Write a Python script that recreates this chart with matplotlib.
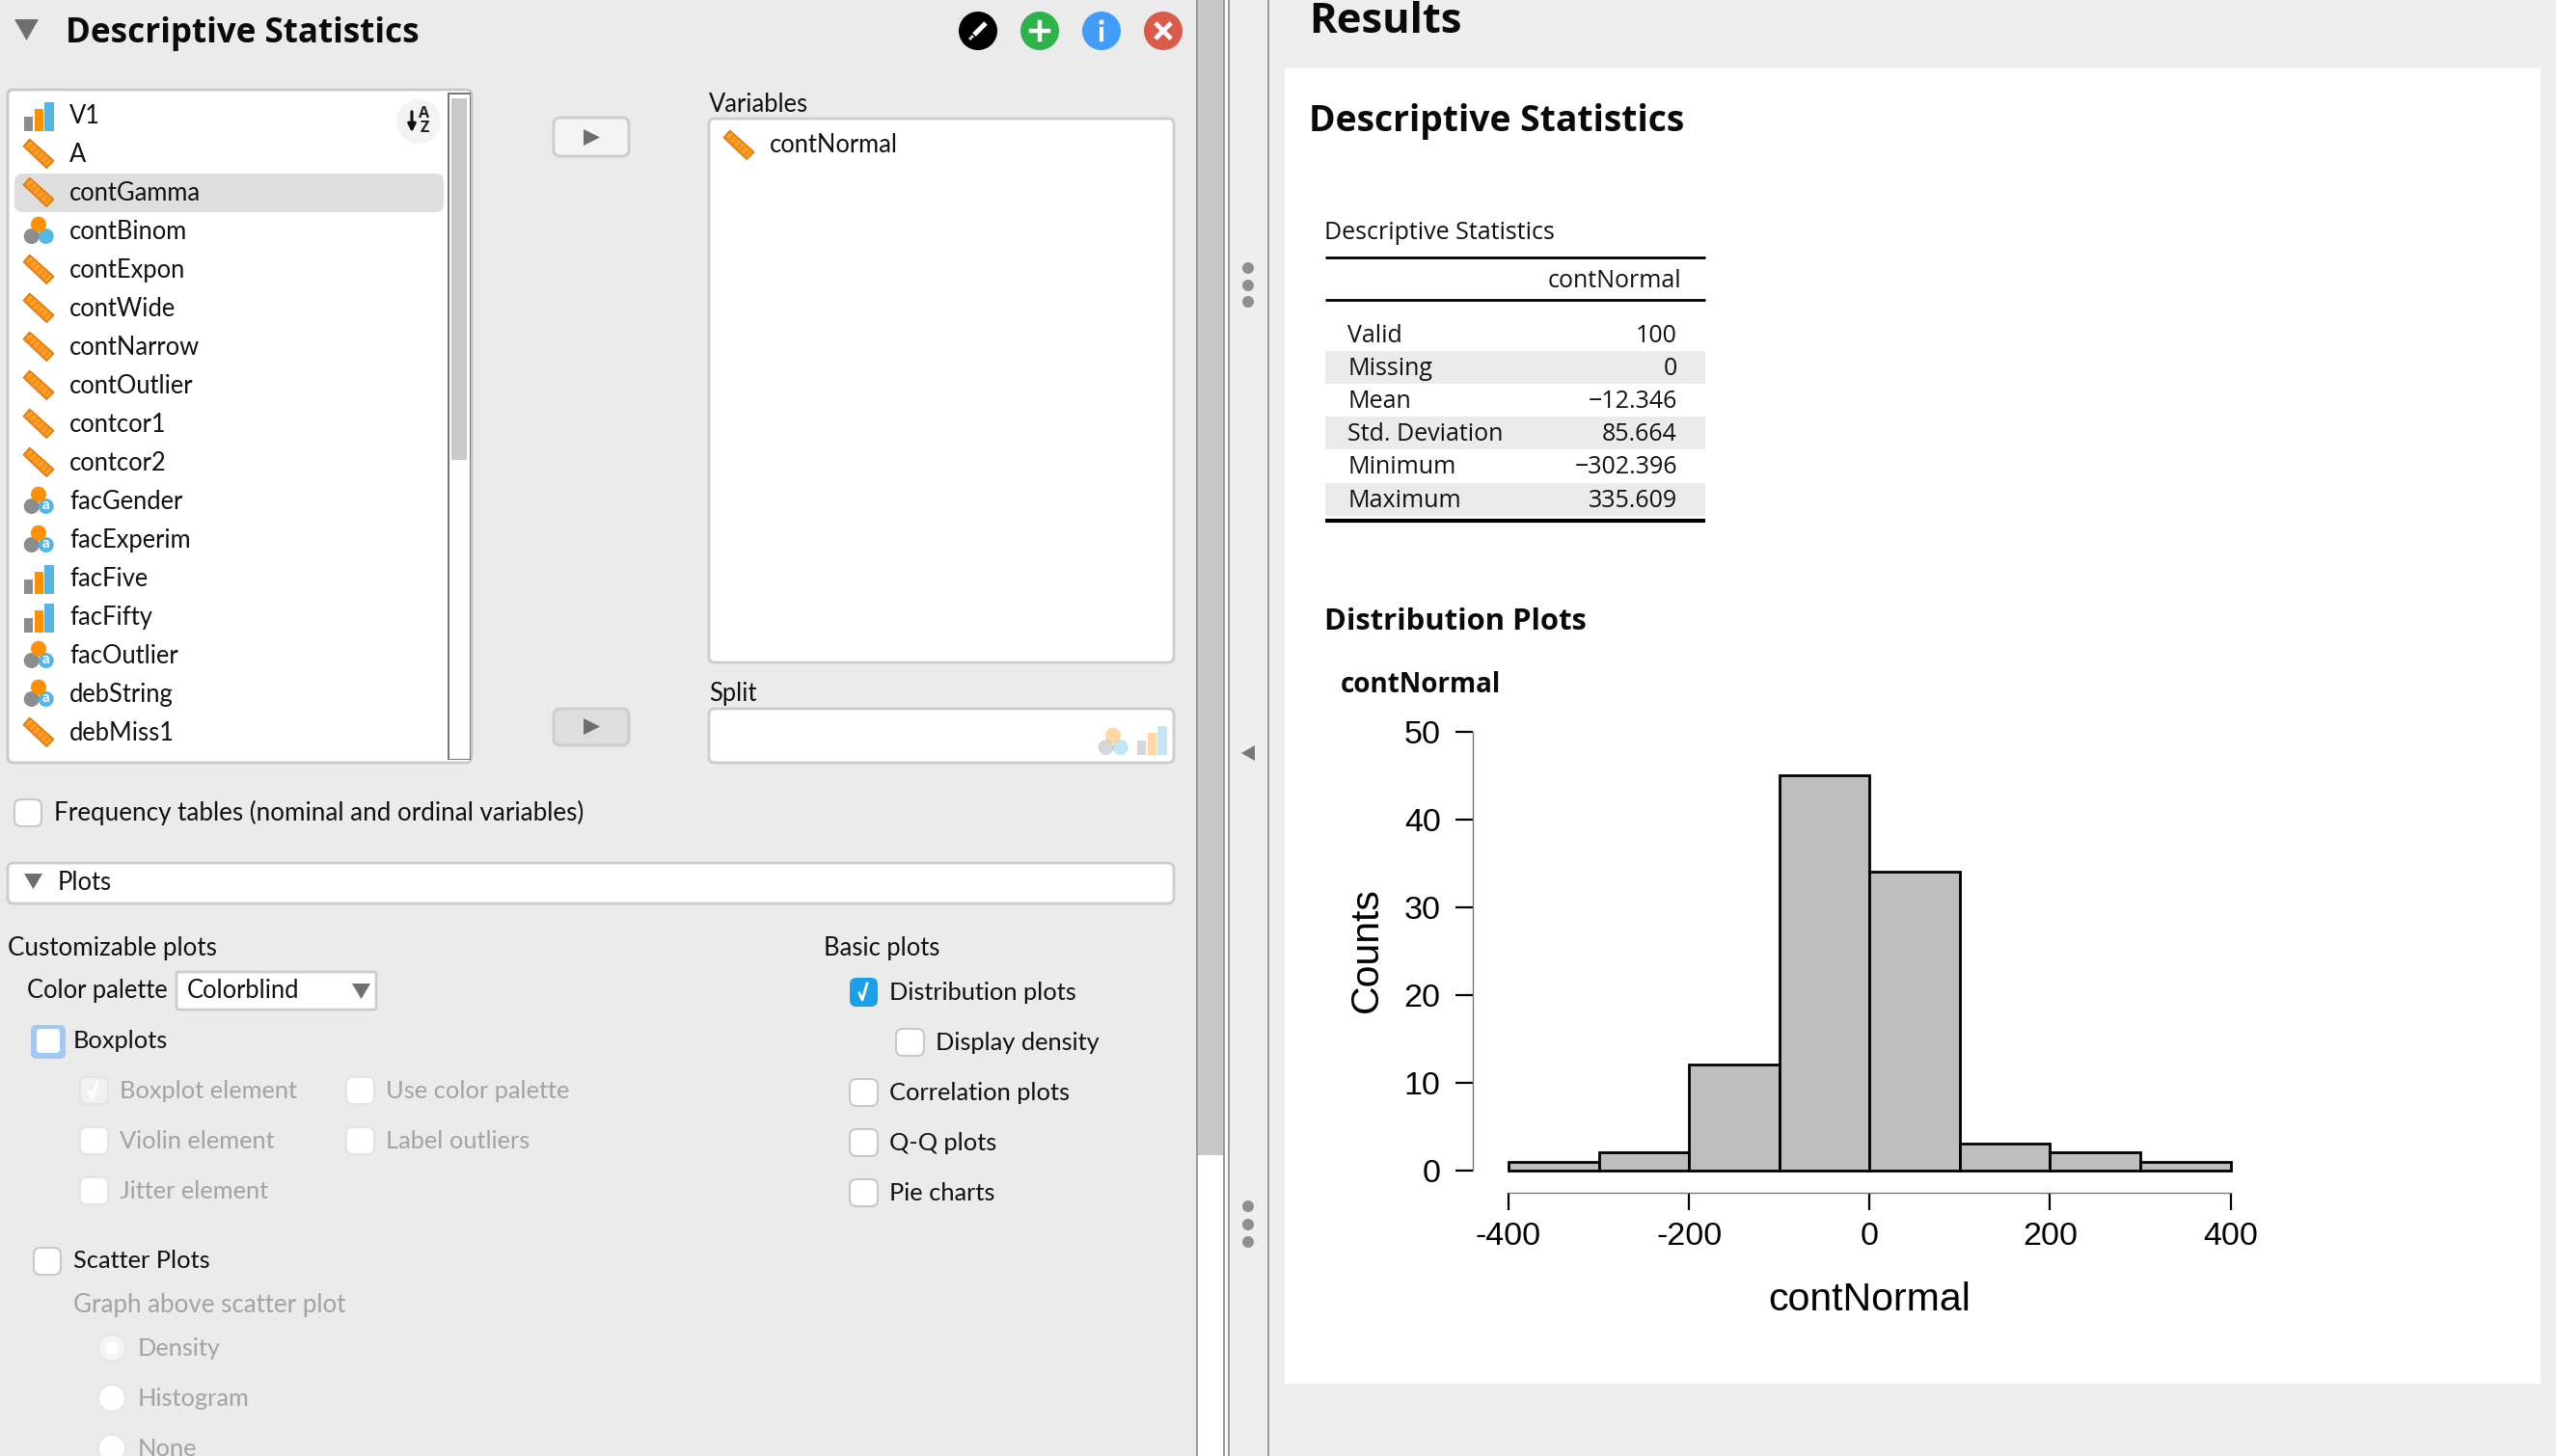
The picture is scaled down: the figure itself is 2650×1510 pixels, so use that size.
import matplotlib
matplotlib.use('Agg')
import matplotlib.pyplot as plt
from matplotlib.patches import FancyBboxPatch, Circle, Polygon, Rectangle

# Donnees
variable_names = ['V1', 'A', 'contGamma', 'contBinom', 'contExpon', 'contWide', 'contNarrow',
                  'contOutlier', 'contcor1', 'contcor2', 'facGender', 'facExperim', 'facFive',
                  'facFifty', 'facOutlier', 'debString', 'debMiss1']
variable_types = ['ordinal', 'scale', 'scale', 'nominal', 'scale', 'scale', 'scale',
                  'scale', 'scale', 'scale', 'text', 'text', 'ordinal',
                  'ordinal', 'text', 'text', 'scale']

stat_labels = ['Valid', 'Missing', 'Mean', 'Std. Deviation', 'Minimum', 'Maximum']
stat_values = ['100', '0', '\u221212.346', '85.664', '\u2212302.396', '335.609']

bin_edges = [-400, -300, -200, -100, 0, 100, 200, 300, 400]
bin_counts = [1, 2, 12, 45, 34, 3, 2, 1]
x_ticks = [-400, -200, 0, 200, 400]
x_tick_labels = ['-400', '-200', '0', '200', '400']
y_ticks = [0, 10, 20, 30, 40, 50]

W, H = 2650, 1510
UI_FONT = 'Lato'
RES_FONT = 'Open Sans'
GREY_TXT = '#a3a3a3'
ORANGE = '#ff9000'
BLUE = '#55b5e5'
GREY = '#8a8d90'

fig = plt.figure(figsize=(W / 100, H / 100), dpi=100, facecolor='#ebebeb')
ui = fig.add_axes([0, 0, 1, 1], zorder=0)
ui.set_xlim(0, W)
ui.set_ylim(H, 0)
ui.axis('off')


def box(x0, y0, x1, y1, fc='white', ec='#cccccc', lw=1.5, r=6, z=1):
    ui.add_patch(FancyBboxPatch((x0, y0), x1 - x0, y1 - y0, boxstyle=f'round,pad=0,rounding_size={r}',
                                fc=fc, ec=ec, lw=lw, zorder=z))


def rect(x0, y0, x1, y1, fc, z=1, alpha=1.0):
    ui.add_patch(Rectangle((x0, y0), x1 - x0, y1 - y0, fc=fc, ec='none', zorder=z, alpha=alpha))


def tri(x0, y0, x1, y1, col='#6f6f6f'):
    # triangle pointe en bas
    ui.add_patch(Polygon([(x0, y0), (x1, y0), ((x0 + x1) / 2, y1)], fc=col, ec='none', zorder=3))


def txt(x, y, s, size=18.3, col='#111111', font=UI_FONT, ha='left', weight='normal'):
    ui.text(x, y, s, fontsize=size, color=col, family=font, ha=ha, va='center', weight=weight, zorder=4)


def checkbox(x0, y0, x1, y1, disabled=False):
    ec = '#e4e4e4' if disabled else '#c8c8c8'
    box(x0, y0, x1, y1, fc='white', ec=ec, lw=1.5, r=7, z=2)


def check_mark(x, y, col='white', lw=2):
    ui.plot([x - 4, x - 1, x + 4], [y + 1, y + 8, y - 9], color=col, lw=lw, zorder=5)


def icon_scale(x0, cy, alpha=1.0):
    corners = [(x0 + 5.7, cy - 14.7), (x0 - 0.7, cy - 7.3), (x0 + 23.3, cy + 15.3), (x0 + 30.7, cy + 7.7)]
    ui.add_patch(Polygon(corners, fc='#fb8f14', ec='#dd7a08', lw=1, alpha=alpha, zorder=3))
    for k in range(6):
        tx = x0 + 7.5 + k * 3.9
        ty = cy - 11 + k * 3.75
        ui.plot([tx, tx - 3.6], [ty, ty + 3.9], color='#ffb050', lw=1, alpha=alpha, zorder=4)


def icon_ordinal(x0, cy, alpha=1.0):
    bottom = cy + 17
    for k, (h, c) in enumerate(zip([15, 23, 30], [GREY, ORANGE, BLUE])):
        rect(x0 + k * 10.7, bottom - h, x0 + k * 10.7 + 9.3, bottom, c, z=3, alpha=alpha)


def icon_nominal(x0, cy, alpha=1.0, letter=False):
    ui.add_patch(Circle((x0 + 22.7, cy + 6), 8, fc=BLUE, ec='none', alpha=alpha, zorder=3))
    ui.add_patch(Circle((x0 + 7.7, cy + 6), 8, fc=GREY, ec='none', alpha=alpha, zorder=3))
    ui.add_patch(Circle((x0 + 15, cy - 6.3), 8, fc=ORANGE, ec='none', alpha=alpha, zorder=4))
    if letter:
        ui.text(x0 + 22.7, cy + 5, 'a', fontsize=11, color='white', ha='center', va='center',
                family=UI_FONT, weight='bold', zorder=5)


# =============================================================================
# Panneau de gauche
# =============================================================================
rect(1240, 0, 1242, H, '#9a9a9a', z=1)
rect(1242, 0, 1268, 1198, '#c8c8c8', z=1)
rect(1242, 1198, 1268, H, 'white', z=1)
rect(1268, 0, 1270, H, '#9a9a9a', z=1)
rect(1270, 0, 1273, H, 'white', z=1)
rect(1273, 0, 1275, H, '#9a9a9a', z=1)
rect(1275, 0, 1314, H, '#eeeeee', z=1)
rect(1314, 0, 1316, H, '#9a9a9a', z=1)
rect(1316, 0, W, H, '#eeeeee', z=1)

tri(15, 20, 40, 42)
txt(68, 35, 'Descriptive Statistics', size=25.2, font=RES_FONT, weight='bold', col='#0a0a0a')

for cx, col in zip([1014, 1078, 1142, 1206], ['#000000', '#2eb24a', '#429cfa', '#db5b4a']):
    ui.add_patch(Circle((cx, 32), 20, fc=col, ec='none', zorder=3))
# crayon, plus, info, croix
ui.plot([1010, 1022], [36, 24], color='white', lw=3.6, solid_capstyle='butt', zorder=4)
ui.plot([1005, 1009], [41, 37], color='#cccccc', lw=2.2, solid_capstyle='butt', zorder=4)
ui.plot([1078, 1078], [23, 41], color='white', lw=3.2, zorder=4)
ui.plot([1069, 1087], [32, 32], color='white', lw=3.2, zorder=4)
ui.plot([1142, 1142], [30, 41], color='white', lw=3, zorder=4)
ui.add_patch(Circle((1142, 23), 2.6, fc='white', ec='none', zorder=4))
ui.plot([1199.5, 1212.5], [25.5, 38.5], color='white', lw=3.4, zorder=4)
ui.plot([1212.5, 1199.5], [25.5, 38.5], color='white', lw=3.4, zorder=4)

# Liste des variables
box(8, 93, 489, 791, ec='#c8c8c8', lw=2)
rect(464, 96, 488, 788, '#777777', z=2)
rect(465.5, 97.5, 486.5, 786.5, 'white', z=2)
rect(468, 102, 484, 477, '#c9c9c9', z=3)
box(15, 180, 460, 220, fc='#dedede', ec='none', lw=0, r=8, z=2)

ui.add_patch(Circle((434, 126), 23, fc='#f3f3f3', ec='none', zorder=3))
ui.annotate('', xy=(427, 140), xytext=(427, 113),
            arrowprops=dict(arrowstyle='-|>', color='#111111', lw=2.2, mutation_scale=12), zorder=4)
txt(440, 118.5, 'A', size=11.5, col='#222222', ha='center', font=RES_FONT, weight='bold')
txt(440, 133, 'Z', size=11.5, col='#222222', ha='center', font=RES_FONT, weight='bold')

for i, (name, vtype) in enumerate(zip(variable_names, variable_types)):
    cy = 119 + i * 40
    txt(72, cy + 1.5, name, size=18.4)
    if vtype == 'scale':
        icon_scale(25, cy)
    elif vtype == 'ordinal':
        icon_ordinal(25, cy)
    else:
        icon_nominal(25, cy, letter=vtype == 'text')

# Boutons d'assignation
box(574, 122, 652, 162, fc='#f4f4f4', ec='#cccccc', lw=2, r=7)
ui.add_patch(Polygon([(605, 134), (605, 151), (622, 142.5)], fc='#6e6e6e', ec='none', zorder=3))
box(574, 735, 652, 773, fc='#dedede', ec='#cccccc', lw=2, r=7)
ui.add_patch(Polygon([(605, 745), (605, 762), (622, 753.5)], fc='#6e6e6e', ec='none', zorder=3))

txt(735, 108, 'Variables', size=18.4)
box(735, 123, 1217, 687, ec='#cccccc', lw=2)
icon_scale(751, 150)
txt(798, 150, 'contNormal', size=18.4)
txt(735, 720, 'Split', size=18.4)
box(735, 735, 1217, 791, ec='#cccccc', lw=2)
icon_nominal(1139, 769, alpha=0.35)
icon_ordinal(1179, 766, alpha=0.35)

checkbox(15, 829, 43, 857)
txt(56, 843, 'Frequency tables (nominal and ordinal variables)', size=18.7)

box(8, 895, 1217, 937, ec='#cccccc', lw=2)
tri(25, 906, 44, 922)
txt(60, 915.5, 'Plots', size=18.4)

txt(8, 984, 'Customizable plots', size=18.7)
txt(854, 984, 'Basic plots', size=18.4)
txt(28, 1027.5, 'Color palette', size=18.4)
box(183, 1008, 390, 1047, ec='#cccccc', lw=2, r=2)
txt(194, 1027.5, 'Colorblind', size=18.4)
tri(365, 1020, 384, 1036)

# Cases a cocher
box(32, 1063, 68, 1098, fc='#a3c9f2', ec='none', lw=0, r=6, z=2)
box(38, 1067, 62, 1092, fc='white', ec='none', lw=0, r=4, z=3)
txt(76, 1079.5, 'Boxplots')

for x0, x1, y0, label, tx, ty in [(83, 112, 1117, 'Boxplot element', 124, 1131.5),
                                  (359, 388, 1117, 'Use color palette', 400, 1131.5),
                                  (83, 112, 1169, 'Violin element', 124, 1183.5),
                                  (359, 388, 1169, 'Label outliers', 400, 1183.5),
                                  (83, 112, 1221, 'Jitter element', 124, 1235.5)]:
    checkbox(x0, y0, x1, y0 + 28, disabled=True)
    txt(tx, ty, label, col=GREY_TXT)
box(83, 1117, 112, 1145, fc='#f1f1f1', ec='#e4e4e4', r=7, z=3)
check_mark(97, 1131, col='white')

box(881, 1014, 910, 1044, fc='#1a9fe8', ec='none', lw=0, r=7, z=2)
check_mark(895, 1029)
txt(922, 1029.5, 'Distribution plots')
checkbox(929, 1067, 958, 1095)
txt(970, 1081.5, 'Display density')
for y0, label in [(1119, 'Correlation plots'), (1171, 'Q-Q plots'), (1223, 'Pie charts')]:
    checkbox(881, y0, 910, y0 + 28)
    txt(922, y0 + 14.5, label)

checkbox(35, 1294, 63, 1322)
txt(76, 1307.5, 'Scatter Plots')
txt(76, 1353.5, 'Graph above scatter plot', size=18.6, col=GREY_TXT)
for cy, label, selected in [(1398, 'Density', True), (1450, 'Histogram', False), (1502, 'None', False)]:
    ui.add_patch(Circle((116, cy), 14, fc='#f4f4f4' if selected else 'white', ec='#e6e6e6', lw=1.5, zorder=2))
    if selected:
        ui.add_patch(Circle((116, cy), 7, fc='white', ec='none', zorder=3))
    txt(143, cy + 1, label, col=GREY_TXT)

# Poignees
for ys in [(278, 296, 313), (1251, 1270, 1288)]:
    for y in ys:
        ui.add_patch(Circle((1294, y), 6, fc='#8f8f8f', ec='none', zorder=3))
ui.add_patch(Polygon([(1287, 781), (1301, 773), (1301, 789)], fc='#777777', ec='none', zorder=3))

# =============================================================================
# Panneau de droite
# =============================================================================
rect(1332, 71, 2634, 1435, 'white', z=2)
txt(1357, 23, 'Results', size=31.3, font=RES_FONT, weight='bold', col='#0a0a0a')
txt(1357, 126, 'Descriptive Statistics', size=26.8, font=RES_FONT, weight='bold', col='#0a0a0a')
txt(1373, 241, 'Descriptive Statistics', size=18, font=RES_FONT)

ui.plot([1374, 1768], [267, 267], color='black', lw=2, zorder=4, solid_capstyle='butt')
txt(1743, 291, 'contNormal', size=18, font=RES_FONT, ha='right')
ui.plot([1374, 1768], [311, 311], color='black', lw=2, zorder=4, solid_capstyle='butt')

for i, (label, value) in enumerate(zip(stat_labels, stat_values)):
    cy = 347 + i * 34.1
    if i % 2 == 1:
        rect(1374, cy - 17, 1768, cy + 17, '#ebebeb', z=3)
    txt(1397, cy + 1.5, label, size=18, font=RES_FONT)
    txt(1739, cy + 1.5, value, size=18, font=RES_FONT, ha='right')
ui.plot([1374, 1768], [540, 540], color='black', lw=3, zorder=4, solid_capstyle='butt')

txt(1373, 645, 'Distribution Plots', size=22.3, font=RES_FONT, weight='bold', col='#0a0a0a')
txt(1390, 710, 'contNormal', size=20, font=RES_FONT, weight='bold', col='#0a0a0a')

# Histogramme
x0_px, x1_px = 1564, 2312.6
y50_px, y0_px = 759, 1213.6
ax = fig.add_axes([x0_px / W, 1 - y0_px / H, (x1_px - x0_px) / W, (y0_px - y50_px) / H], zorder=3)
ax.patch.set_alpha(0)
ax.bar(bin_edges[:-1], bin_counts, width=100, align='edge', color='#bebebe', edgecolor='black',
       linewidth=2, clip_on=False)
ax.set_xlim(-400, 400)
ax.set_ylim(0, 50)
ax.spines['top'].set_visible(False)
ax.spines['right'].set_visible(False)
ax.spines['left'].set_position(('outward', 26.9))
ax.spines['bottom'].set_position(('outward', 16.5))
ax.spines['left'].set_color('#777777')
ax.spines['bottom'].set_color('#777777')
ax.spines['left'].set_linewidth(1)
ax.spines['bottom'].set_linewidth(1)
ax.set_xticks(x_ticks)
ax.set_xticklabels(x_tick_labels)
ax.set_yticks(y_ticks)
ax.tick_params(axis='both', length=12.7, width=1.6, labelsize=24.5, color='black')
ax.tick_params(axis='y', pad=11)
ax.tick_params(axis='x', pad=9.5)
for lab in ax.get_xticklabels() + ax.get_yticklabels():
    lab.set_family('Liberation Sans')
ax.set_xlabel('contNormal', fontsize=29.5, family='Liberation Sans')
ax.set_ylabel('Counts', fontsize=29.5, family='Liberation Sans')
ax.xaxis.set_label_coords(1938, 1348, transform=ui.transData)
ax.yaxis.set_label_coords(1417, 985, transform=ui.transData)
ax.xaxis.label.set_va('center')
ax.yaxis.label.set_va('center')

fig.savefig('out.png', dpi=100, facecolor=fig.get_facecolor())
